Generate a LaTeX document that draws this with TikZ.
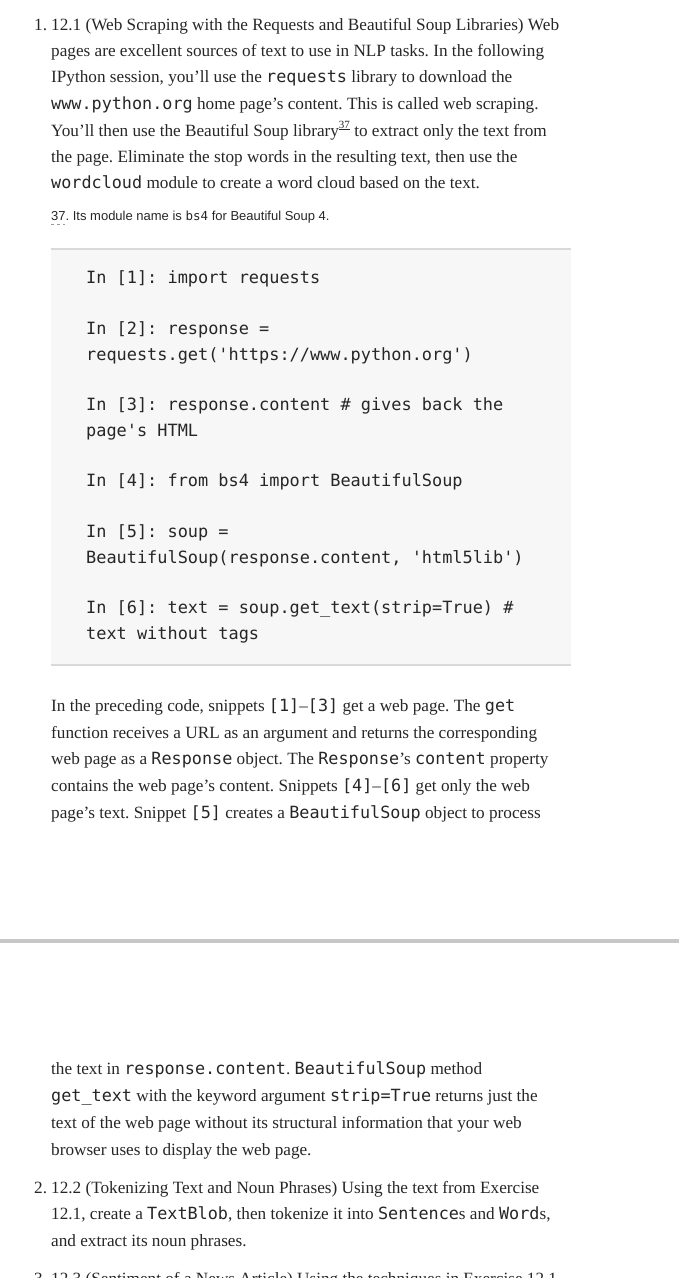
\documentclass[tikz,border=0pt]{standalone}
\usepackage{fontspec}
\setmainfont{Liberation Serif}
\newfontfamily\mono{DejaVu Sans Mono}
\newfontfamily\fsans{Liberation Sans}
\newcommand\cd[1]{{\mono\fontsize{16.8}{18}\selectfont #1}}
\begin{document}
\frenchspacing
\begin{tikzpicture}[x=1pt,y=-1pt,
  tx/.style={anchor=base west,inner sep=0pt,text=black!85,font=\frenchspacing\fontsize{17.2}{20}\selectfont},
  cdl/.style={anchor=base west,inner sep=0pt,text=black!85,font=\mono\fontsize{16.9}{20}\selectfont},
  fn/.style={anchor=base west,inner sep=0pt,text=black!85,font=\fsans\fontsize{13}{16}\selectfont}]
\useasboundingbox (0,0) rectangle (679,1278);
\clip (0,0) rectangle (679,1278);
\fill[black!3] (51,248) rectangle (571,666);
\draw[black!15,line width=2] (51,249) -- (571,249) (51,665) -- (571,665);
\fill[black!22] (0,939) rectangle (679,943);
% item 1
\node[tx] (n1) at (34,30) {1.};
\node[tx] (l1) at (51,30) {12.1 (Web Scraping with the Requests and Beautiful Soup Libraries) Web};
\node[tx] (l2) at (51,56) {pages are excellent sources of text to use in NLP tasks. In the following};
\node[tx] (l3) at (51,82) {IPython session, you’ll use the \cd{requests} library to download the};
\node[tx] (l4) at (51,109) {\cd{www.python.org} home page’s content. This is called web scraping.};
\node[tx] (l5) at (51,136) {You’ll then use the Beautiful Soup library\raisebox{8pt}{\fontsize{11}{12}\selectfont\underbar{37}}\ to extract only the text from};
\node[tx] (l6) at (51,162) {the page. Eliminate the stop words in the resulting text, then use the};
\node[tx] (l7) at (51,188) {\cd{wordcloud} module to create a word cloud based on the text.};
\node[fn] (f1) at (51,220) {37. Its module name is {\mono\fontsize{12.5}{14}\selectfont bs4} for Beautiful Soup 4.};
\draw[black!40,dashed,line width=0.6] (51,224) -- (65,224);
% code
\node[cdl] (c1) at (86,283) {In [1]: import requests};
\node[cdl] (c2) at (86,334) {In [2]: response =};
\node[cdl] (c3) at (86,360) {requests.get('https://www.python.org')};
\node[cdl] (c4) at (86,410) {In [3]: response.content \# gives back the};
\node[cdl] (c5) at (86,436) {page's HTML};
\node[cdl] (c6) at (86,486) {In [4]: from bs4 import BeautifulSoup};
\node[cdl] (c7) at (86,537) {In [5]: soup =};
\node[cdl] (c8) at (86,563) {BeautifulSoup(response.content, 'html5lib')};
\node[cdl] (c9) at (86,613) {In [6]: text = soup.get\_text(strip=True) \#};
\node[cdl] (c10) at (86,639) {text without tags};
% paragraph
\node[tx] (p1) at (51,711) {In the preceding code, snippets \cd{[1]}–\cd{[3]} get a web page. The \cd{get}};
\node[tx] (p2) at (51,738) {function receives a URL as an argument and returns the corresponding};
\node[tx] (p3) at (51,764) {web page as a \cd{Response} object. The \cd{Response}’s \cd{content} property};
\node[tx] (p4) at (51,791) {contains the web page’s content. Snippets \cd{[4]}–\cd{[6]} get only the web};
\node[tx] (p5) at (51,818) {page’s text. Snippet \cd{[5]} creates a \cd{BeautifulSoup} object to process};
% page 2
\node[tx] (q1) at (51,1074) {the text in \cd{response.content}. \cd{BeautifulSoup} method};
\node[tx] (q2) at (51,1101) {\cd{get\_text} with the keyword argument \cd{strip=True} returns just the};
\node[tx] (q3) at (51,1128) {text of the web page without its structural information that your web};
\node[tx] (q4) at (51,1155) {browser uses to display the web page.};
\node[tx] (n2) at (34,1193) {2.};
\node[tx] (r1) at (51,1193) {12.2 (Tokenizing Text and Noun Phrases) Using the text from Exercise};
\node[tx] (r2) at (51,1219) {12.1, create a \cd{TextBlob}, then tokenize it into \cd{Sentence}s and \cd{Word}s,};
\node[tx] (r3) at (51,1246) {and extract its noun phrases.};
\node[tx] (n3) at (34,1284) {3.};
\node[tx] (s1) at (51,1284) {12.3 (Sentiment of a News Article) Using the techniques in Exercise 12.1};
\end{tikzpicture}
\end{document}
